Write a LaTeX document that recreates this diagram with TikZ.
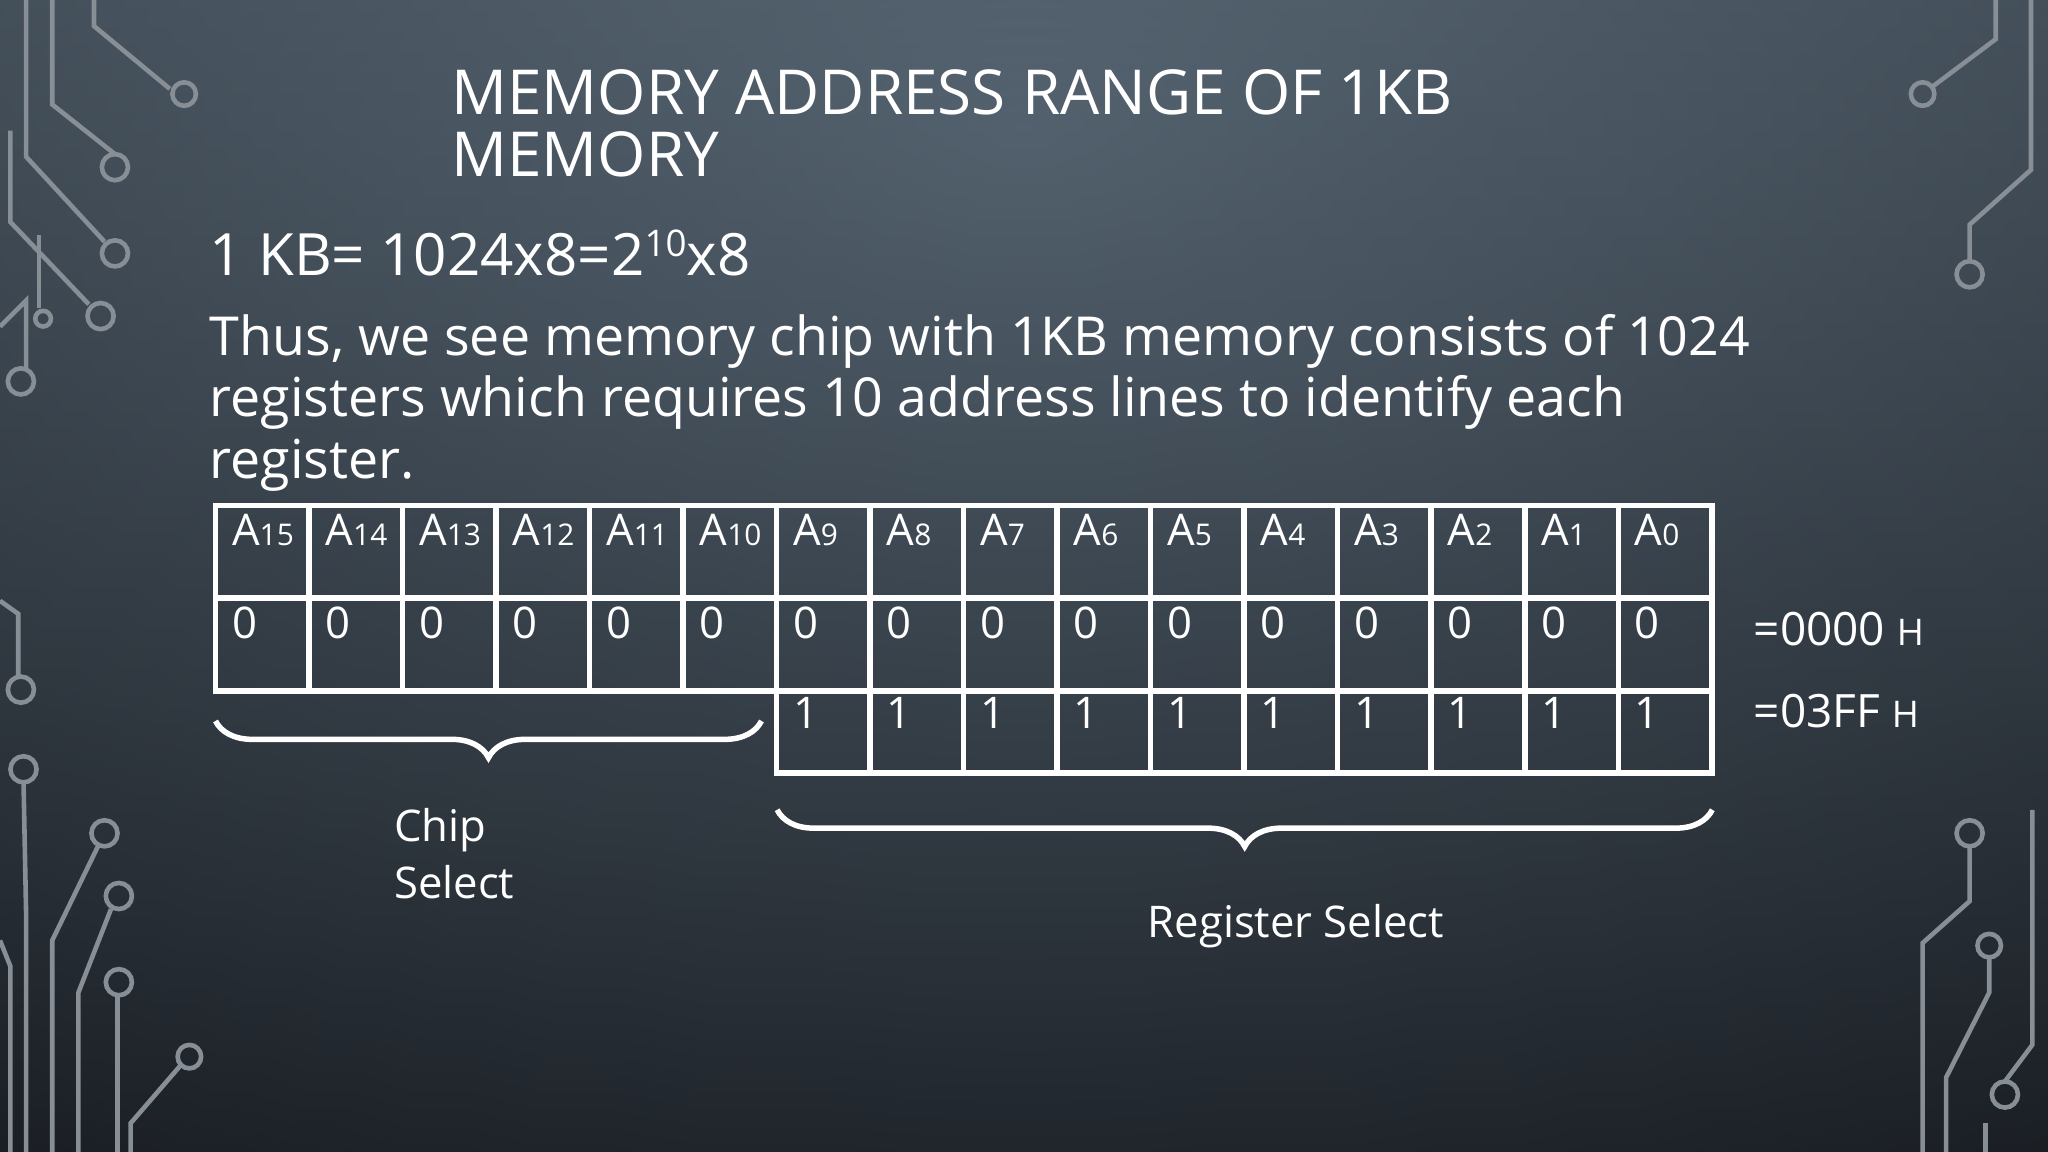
\documentclass[tikz,border=0pt]{standalone}
\usepackage{fontspec}
\setmainfont{Open Sans}
\usetikzlibrary{decorations.pathreplacing}
\definecolor{decocol}{RGB}{135,142,150}
\begin{document}
\begin{tikzpicture}[x=0.01cm,y=-0.01cm,
  txt/.style={text=white,inner sep=0,anchor=base west},
  cell/.style={draw=white,line width=1.2pt},
  deco/.style={draw=decocol,line width=1pt},
  ring/.style={draw=decocol,line width=1pt,fill=none},
  br/.style={draw=white,line width=1.2pt,decorate,decoration={brace,mirror,amplitude=8pt,aspect=0.5}}]
\useasboundingbox (0,0) rectangle (1568,882);
\shade[inner color={rgb,255:red,92;green,108;blue,122},outer color={rgb,255:red,28;green,32;blue,38}] (-600,-900) rectangle (2168,1100);
\shade[top color={rgb,255:red,80;green,94;blue,106},bottom color={rgb,255:red,24;green,28;blue,33},opacity=0.5] (0,0) rectangle (1568,882);
% decorations left
\draw[deco] (72,0)--(72,20)--(130,68); \draw[ring] (141,72) circle (9);
\draw[deco] (40,0)--(40,80)--(88,118); \draw[ring] (88,128) circle (10);
\draw[deco] (20,0)--(20,120)--(80,185); \draw[ring] (88,194) circle (10);
\draw[deco] (8,100)--(8,170)--(68,233); \draw[ring] (77,242) circle (10);
\draw[deco] (30,180)--(30,236); \draw[ring] (33,244) circle (6);
\draw[deco] (0,250)--(20,230)--(20,282); \draw[ring] (16,292) circle (10);
\draw[deco] (0,460)--(14,470)--(14,518); \draw[ring] (16,528) circle (10);
\draw[deco] (20,882)--(20,700)--(18,598); \draw[ring] (18,589) circle (10);
\draw[deco] (40,882)--(40,720)--(75,648); \draw[ring] (80,638) circle (10);
\draw[deco] (60,882)--(60,760)--(85,696); \draw[ring] (91,686) circle (10);
\draw[deco] (90,882)--(90,763); \draw[ring] (91,752) circle (10);
\draw[deco] (100,882)--(100,860)--(138,816); \draw[ring] (145,809) circle (9);
\draw[deco] (0,720)--(8,740)--(8,882);
% decorations right
\draw[deco] (1528,0)--(1528,30)--(1480,66); \draw[ring] (1472,72) circle (9);
\draw[deco] (1555,0)--(1555,130)--(1508,172)--(1508,200); \draw[ring] (1508,210) circle (10);
\draw[deco] (1508,648)--(1508,690)--(1472,722)--(1472,882); \draw[ring] (1508,638) circle (10);
\draw[deco] (1523,733)--(1523,760)--(1490,825)--(1490,882); \draw[ring] (1523,724) circle (9);
\draw[deco] (1556,620)--(1556,800)--(1535,828); \draw[ring] (1535,838) circle (10);
\draw[deco] (1520,882)--(1520,860);
% text
\node[txt,font=\fontsize{13.5}{16}\selectfont] (t1) at (345,88) {MEMORY ADDRESS RANGE OF 1KB};
\node[txt,font=\fontsize{13.5}{16}\selectfont] (t2) at (345,135) {MEMORY};
\node[txt,font=\fontsize{12.7}{16}\selectfont] (l1) at (160,211) {1 KB= 1024x8=2\raisebox{0.6ex}{\fontsize{8}{10}\selectfont 10}x8};
\node[txt,font=\fontsize{11.7}{15}\selectfont] (l2) at (160,272) {Thus, we see memory chip with 1KB memory consists of 1024};
\node[txt,font=\fontsize{11.7}{15}\selectfont] (l3) at (160,319) {registers which requires 10 address lines to identify each};
\node[txt,font=\fontsize{11.7}{15}\selectfont] (l4) at (160,366) {register.};
% table
\foreach \i in {0,...,15} {
  \pgfmathsetmacro\xa{165+\i*71.6}
  \pgfmathtruncatemacro\n{15-\i}
  \draw[cell] (\xa,387) rectangle ++(71.6,71);
  \draw[cell] (\xa,458) rectangle ++(71.6,71);
  \node[txt,font=\fontsize{9.5}{12}\selectfont] (h\n) at (\xa+12,418) {A{\fontsize{6.5}{8}\selectfont\n}};
  \node[txt,font=\fontsize{9.5}{12}\selectfont] (z\n) at (\xa+12,489) {0};
}
\foreach \i in {6,...,15} {
  \pgfmathsetmacro\xa{165+\i*71.6}
  \pgfmathtruncatemacro\n{15-\i}
  \draw[cell] (\xa,529) rectangle ++(71.6,63);
  \node[txt,font=\fontsize{9.5}{12}\selectfont] (o\n) at (\xa+12,558) {1};
}
\node[txt,font=\fontsize{10}{12}\selectfont] (r1) at (1342,494) {=0000 {\fontsize{8}{10}\selectfont H}};
\node[txt,font=\fontsize{10}{12}\selectfont] (r2) at (1342,557) {=03FF {\fontsize{8}{10}\selectfont H}};
% braces
\coordinate (b1a) at (165,552); \coordinate (b1b) at (583,552);
\draw[br] (b1a)--(b1b);
\coordinate (b2a) at (595,620); \coordinate (b2b) at (1311,620);
\draw[br] (b2a)--(b2b);
\node[txt,font=\fontsize{9.5}{12.4}\selectfont,align=left,anchor=north west] (cs) at (301,618) {Chip\\Select};
\node[txt,font=\fontsize{9.5}{12}\selectfont] (rs) at (878,718) {Register Select};
\end{tikzpicture}
\end{document}
